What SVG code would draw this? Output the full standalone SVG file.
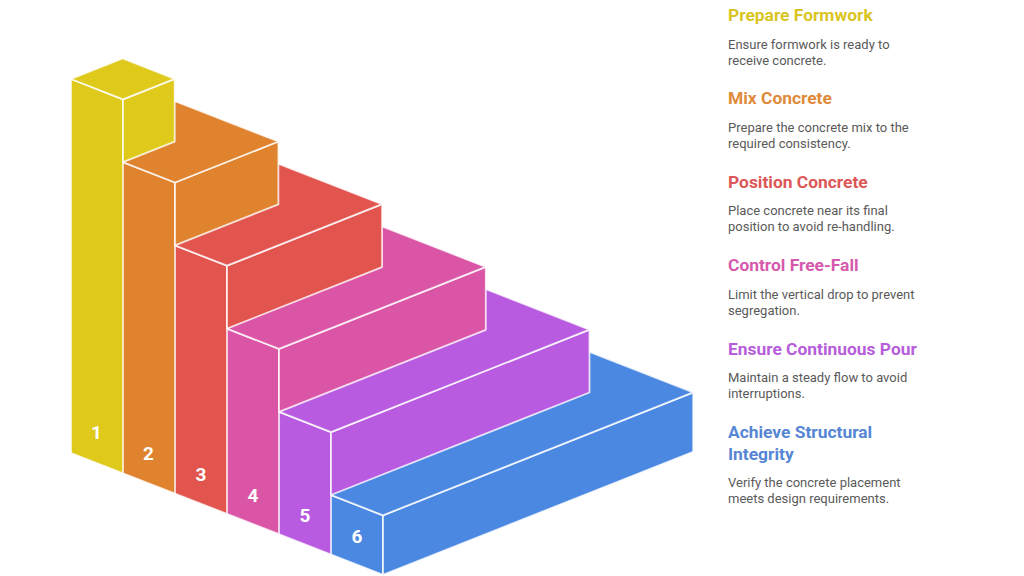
<svg xmlns="http://www.w3.org/2000/svg" width="1024" height="576" viewBox="0 0 1024 576">
  <style>
    .f { stroke: #ffffff; stroke-opacity: 0.8; stroke-width: 1.8; stroke-linejoin: round; }
    .c1 { fill: #DFC91B; }
    .c2 { fill: #E0832E; }
    .c3 { fill: #E2554F; }
    .c4 { fill: #DB55A6; }
    .c5 { fill: #B95BE0; }
    .c6 { fill: #4B88E2; }
    .num { font-family: Roboto, "Liberation Sans", sans-serif; font-weight: 700; font-size: 19px; fill: #ffffff; text-anchor: middle; }
    .title { font-family: Roboto, "Liberation Sans", sans-serif; font-weight: 700; font-size: 17.4px; }
    .desc { font-family: Roboto, "Liberation Sans", sans-serif; font-size: 13px; fill: #5a5a5a; }
    .t1 { fill: #D9C51F; }
    .t2 { fill: #E08A3A; }
    .t3 { fill: #DC5757; }
    .t4 { fill: #D659AD; }
    .t5 { fill: #B75DDB; }
    .t6 { fill: #5686D4; }
  </style>
  <rect width="1024" height="576" fill="#ffffff"/>

  <g id="step6">
    <polygon class="f c6" points="71,453 383,574.8 383,515.3 71,393.5"/>
    <polygon class="f c6" points="383,515.3 693.2,392.3 693.2,451.8 383,574.8"/>
    <polygon class="f c6" points="71,393.5 383,515.3 693.2,392.3 381.2,270.5"/>
    <text class="num" x="357" y="542.5">6</text>
  </g>
  <g id="step5">
    <polygon class="f c5" points="71,453 331,554.5 331,432.1 71,330.6"/>
    <polygon class="f c5" points="331,432.1 589.5,329.6 589.5,392.5 331,495"/>
    <polygon class="f c5" points="71,330.6 331,432.1 589.5,329.6 329.5,228.1"/>
    <text class="num" x="305" y="522">5</text>
  </g>
  <g id="step4">
    <polygon class="f c4" points="71,453 279,534.2 279,348.9 71,267.7"/>
    <polygon class="f c4" points="279,348.9 485.8,266.9 485.8,329.8 279,411.8"/>
    <polygon class="f c4" points="71,267.7 279,348.9 485.8,266.9 277.8,185.7"/>
    <text class="num" x="253" y="501.5">4</text>
  </g>
  <g id="step3">
    <polygon class="f c3" points="71,453 227,513.9 227,265.7 71,204.8"/>
    <polygon class="f c3" points="227,265.7 382.1,204.2 382.1,267.1 227,328.6"/>
    <polygon class="f c3" points="71,204.8 227,265.7 382.1,204.2 226.1,143.3"/>
    <text class="num" x="201" y="480.5">3</text>
  </g>
  <g id="step2">
    <polygon class="f c2" points="71,453 175,493.6 175,182.5 71,141.9"/>
    <polygon class="f c2" points="175,182.5 278.4,141.5 278.4,204.4 175,245.4"/>
    <polygon class="f c2" points="71,141.9 175,182.5 278.4,141.5 174.4,100.9"/>
    <text class="num" x="148.5" y="459.5">2</text>
  </g>
  <g id="step1">
    <polygon class="f c1" points="71,453 123,473.3 123,99.3 71,79"/>
    <polygon class="f c1" points="123,99.3 174.7,78.8 174.7,141.7 123,162.2"/>
    <polygon class="f c1" points="71,79 123,99.3 174.7,78.8 122.7,58.5"/>
    <text class="num" x="96.5" y="438.5">1</text>
  </g>

  <g id="connectors"></g>

  <g id="label1">
    <text class="title t1" x="728" y="21">Prepare Formwork</text>
    <text class="desc" x="728" y="48.5">Ensure formwork is ready to</text>
    <text class="desc" x="728" y="64.5">receive concrete.</text>
  </g>
  <g id="label2">
    <text class="title t2" x="728" y="104.4">Mix Concrete</text>
    <text class="desc" x="728" y="131.9">Prepare the concrete mix to the</text>
    <text class="desc" x="728" y="147.9">required consistency.</text>
  </g>
  <g id="label3">
    <text class="title t3" x="728" y="187.8">Position Concrete</text>
    <text class="desc" x="728" y="215.3">Place concrete near its final</text>
    <text class="desc" x="728" y="231.3">position to avoid re-handling.</text>
  </g>
  <g id="label4">
    <text class="title t4" x="728" y="271.2">Control Free-Fall</text>
    <text class="desc" x="728" y="298.7">Limit the vertical drop to prevent</text>
    <text class="desc" x="728" y="314.7">segregation.</text>
  </g>
  <g id="label5">
    <text class="title t5" x="728" y="354.6">Ensure Continuous Pour</text>
    <text class="desc" x="728" y="382.1">Maintain a steady flow to avoid</text>
    <text class="desc" x="728" y="398.1">interruptions.</text>
  </g>
  <g id="label6">
    <text class="title t6" x="728" y="438">Achieve Structural</text>
    <text class="title t6" x="728" y="460">Integrity</text>
    <text class="desc" x="728" y="487">Verify the concrete placement</text>
    <text class="desc" x="728" y="503">meets design requirements.</text>
  </g>
</svg>
